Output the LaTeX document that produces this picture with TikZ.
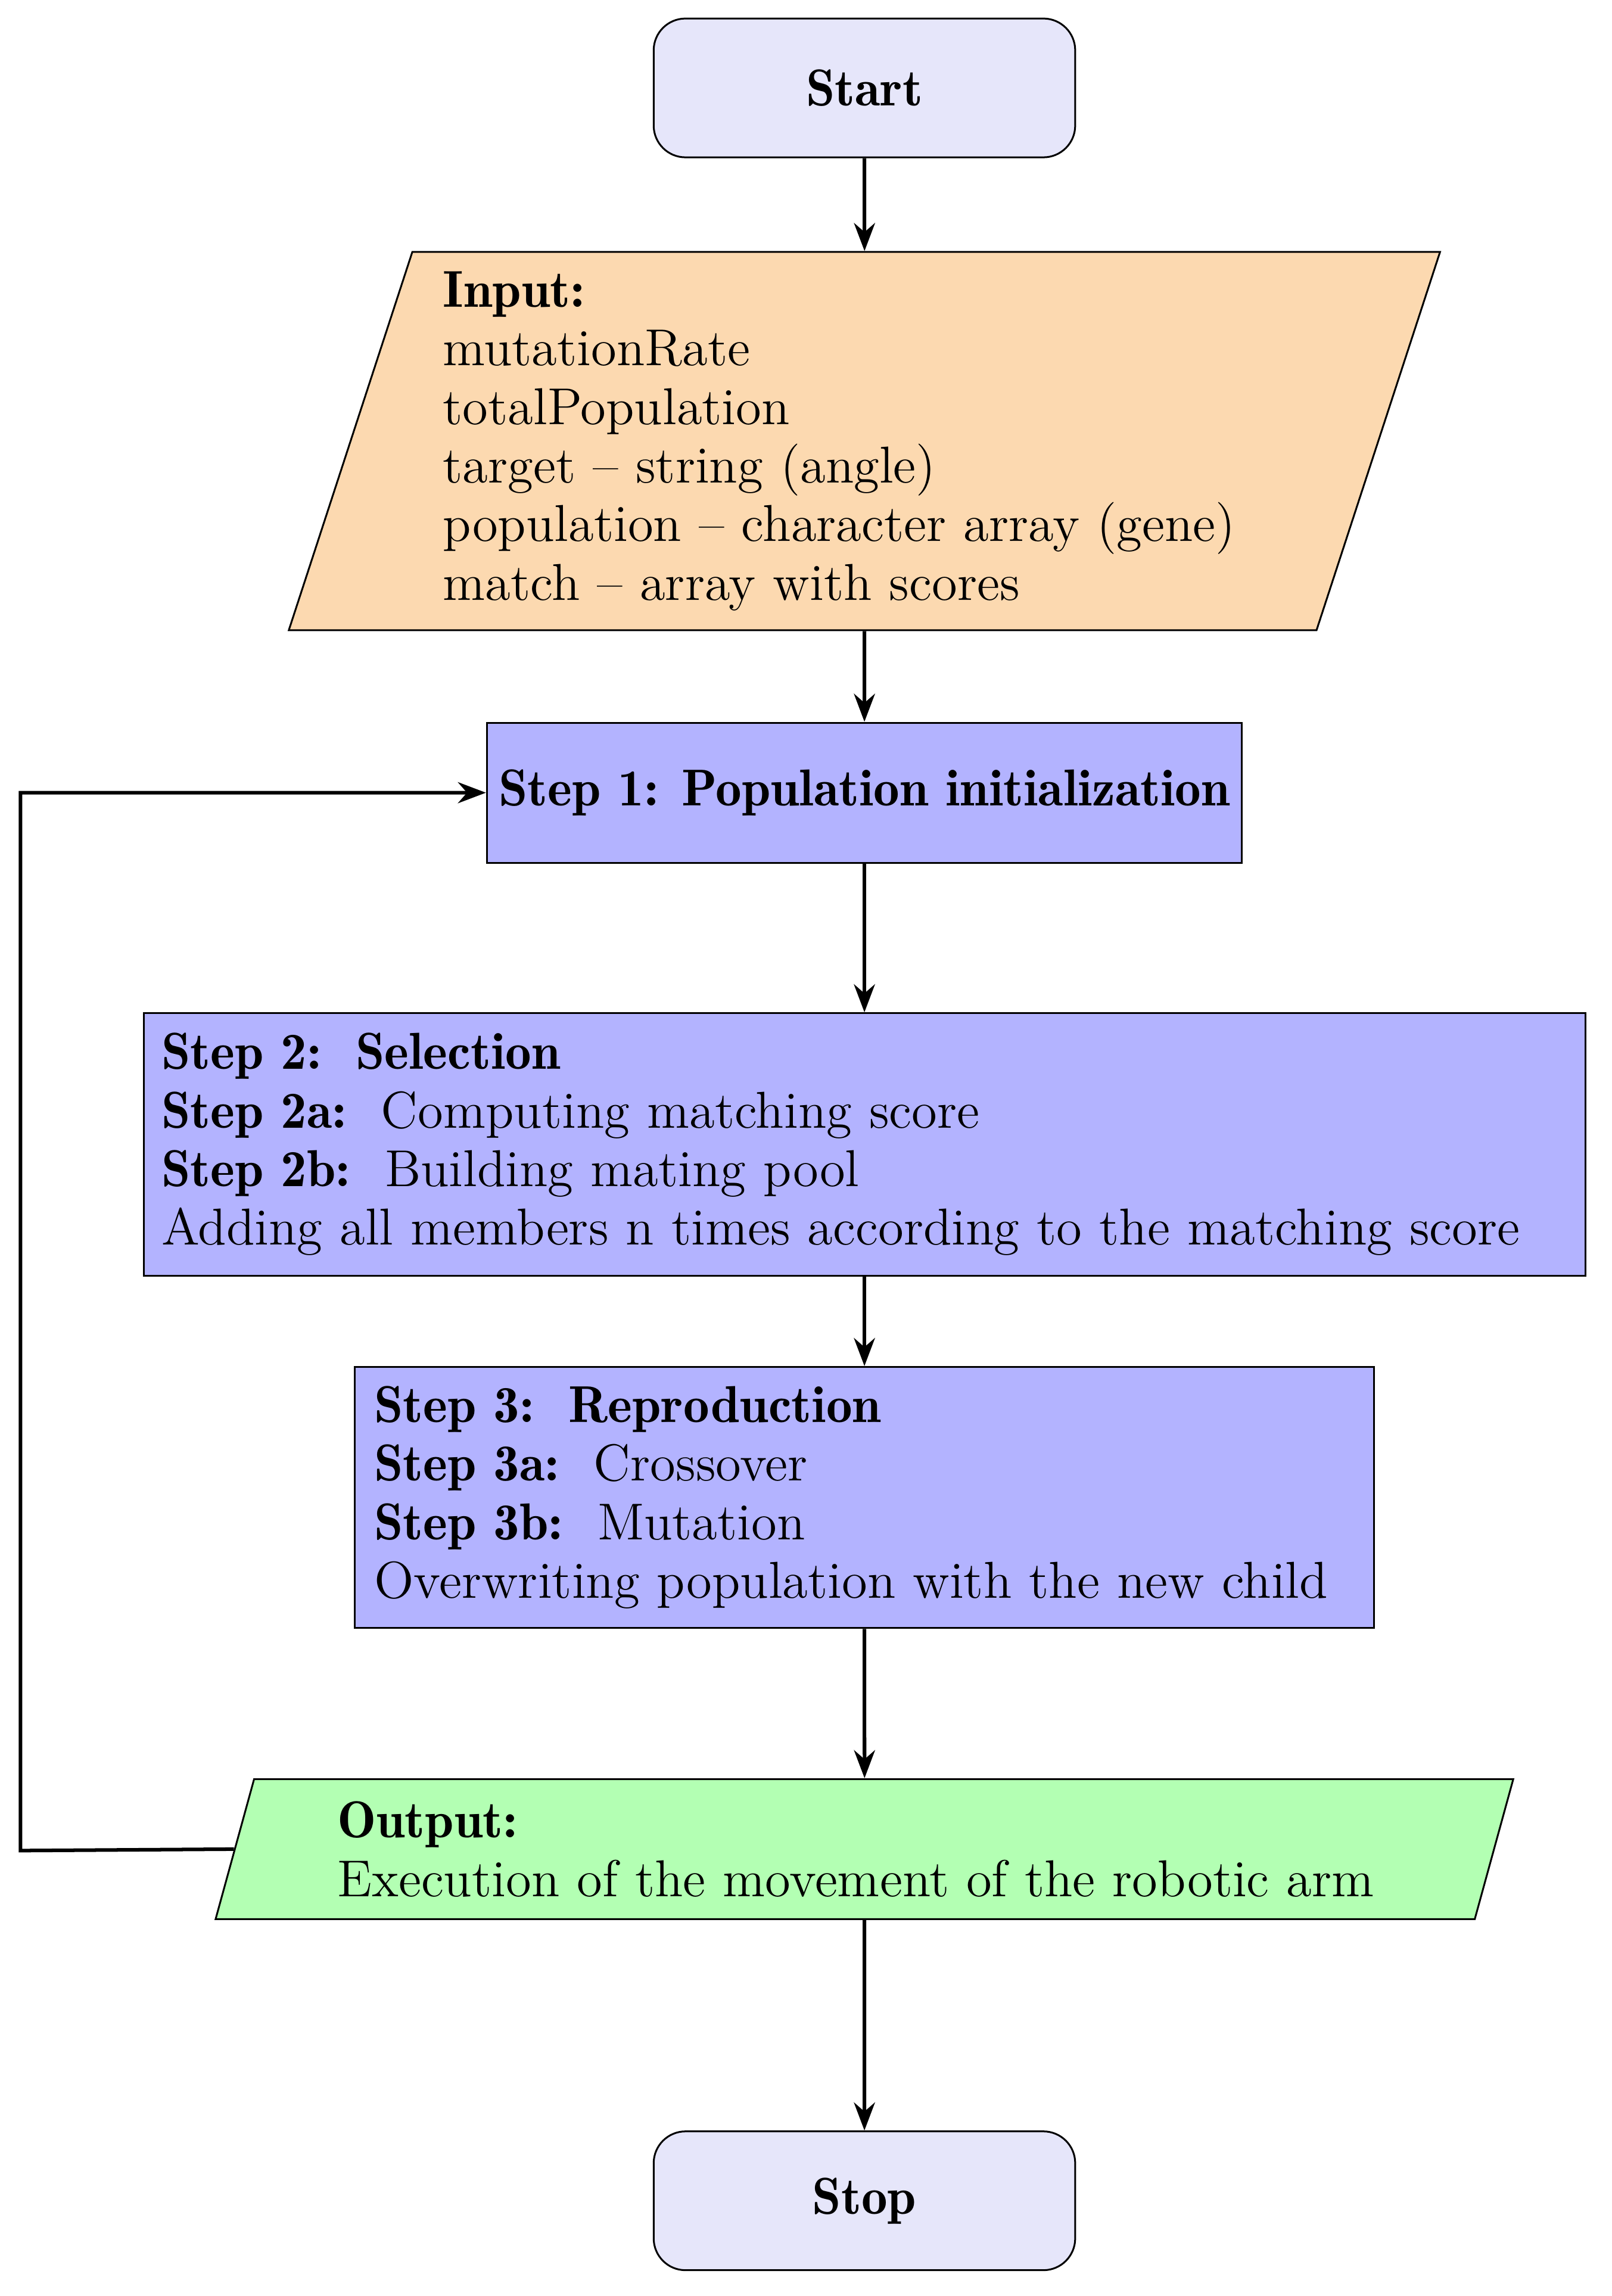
\documentclass[tikz,border=0pt]{standalone}
\usepackage{tikz}
\usetikzlibrary{shapes.geometric,arrows.meta,positioning}
\renewcommand{\bfdefault}{b}
\definecolor{startfill}{HTML}{E6E6FA}
\definecolor{inputfill}{HTML}{FCD9B0}
\definecolor{stepfill}{HTML}{B3B3FF}
\definecolor{outputfill}{HTML}{B3FFB3}
\newcommand{\boxfont}{\fontsize{11.6}{13.1}\selectfont}
\tikzset{
  terminal/.style={draw, rounded corners=2.5mm, fill=startfill, minimum width=3.31cm, minimum height=1.09cm, font=\boxfont\bfseries},
  io/.style={draw, trapezium, trapezium left angle=#1, trapezium right angle=180-#1, trapezium stretches body=true, inner sep=0pt, align=left, font=\boxfont},
  stepbox/.style={draw, fill=stepfill, align=left, inner xsep=0pt, inner ysep=4pt, font=\boxfont},
  line/.style={draw, thick, -{Stealth[length=2.2mm]}}
}
\begin{document}
\begin{tikzpicture}[x=0.0115cm, y=-0.0115cm]
  \useasboundingbox (0,0) rectangle (1100,1567);
  % terminals
  \node [terminal] (start) at (590,60) {Start};
  \node [terminal] (stop) at (590,1502) {Stop};

  % input
  \node [io=70, fill=inputfill, minimum width=9.04cm, minimum height=2.97cm, text width=6.62cm] (input) at (590,301)
    {\textbf{Input:}\\ mutationRate\\ totalPopulation\\ target -- string (angle)\\ population -- character array (gene)\\ match -- array with scores};

  % steps
  \node [stepbox, minimum width=5.93cm, minimum height=1.1cm, font=\boxfont\bfseries] (step1) at (590,541) {Step 1: Population initialization};
  \node [stepbox, minimum width=11.32cm, minimum height=2.06cm, text width=11.04cm] (step2) at (590,781)
    {\textbf{Step 2:\, Selection}\\ \textbf{Step 2a:}\, Computing matching score\\ \textbf{Step 2b:}\, Building mating pool\\ Adding all members n times according to the matching score};
  \node [stepbox, minimum width=8cm, minimum height=2.05cm, text width=7.7cm] (step3) at (590,1022)
    {\textbf{Step 3:\, Reproduction}\\ \textbf{Step 3a:}\, Crossover\\ \textbf{Step 3b:}\, Mutation\\ Overwriting population with the new child};

  % output
  \node [io=68, fill=outputfill, minimum width=10.19cm, minimum height=1.1cm, text width=8.28cm] (output) at (590,1262)
    {\textbf{Output:}\\ Execution of the movement of the robotic arm};

  % connectors
  \coordinate (loop) at (14,1263);
  \path [line] (start) -- (input);
  \path [line] (input) -- (step1);
  \path [line] (step1) -- (step2);
  \path [line] (step2) -- (step3);
  \path [line] (step3) -- (output);
  \path [line] (output) -- (stop);
  \path [line] (output.west) -- (loop) |- (step1.west);
\end{tikzpicture}
\end{document}
